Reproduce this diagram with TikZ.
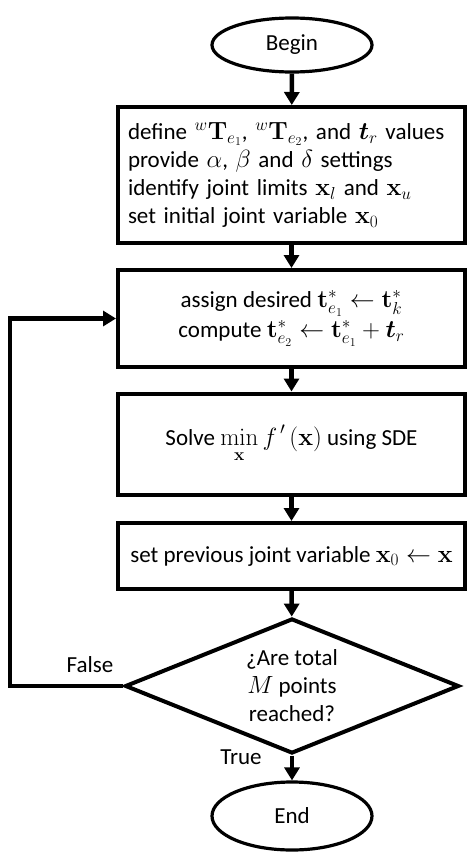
\documentclass[tikz,border=0pt]{standalone}
\usepackage{amsmath,bm}
\usepackage[no-math]{fontspec}
\setmainfont{Carlito}
\usetikzlibrary{shapes.geometric,arrows.meta}
\begin{document}
\begin{tikzpicture}[x=1pt,y=-1pt,
  every node/.style={font=\fontsize{23}{28}\selectfont},
  term/.style={ellipse,draw,line width=3.2pt,minimum width=160pt,minimum height=54pt,inner sep=0pt},
  stepbox/.style={draw,line width=4pt,minimum width=347pt,inner sep=0pt},
  decision/.style={diamond,draw,line width=4pt,minimum width=334pt,minimum height=135pt,aspect=2.47,inner sep=0pt},
  arr/.style={-{Triangle[length=13pt,width=15pt]},line width=4.5pt},
  lbl/.style={inner sep=0pt}]
\useasboundingbox (0,0) rectangle (474,860);
\node[term] (begin) at (292,45) {Begin};
\node[stepbox,minimum height=136pt,text width=327pt,align=left] (b1) at (291.5,175)
  {define ${}^{w}\mathbf{T}_{e_1}$, ${}^{w}\mathbf{T}_{e_2}$, and $\bm{t}_r$ values\\
   provide $\alpha$, $\beta$ and $\delta$ settings\\
   identify joint limits $\mathbf{x}_l$ and $\mathbf{x}_u$\\
   set initial joint variable $\mathbf{x}_0$};
\node[stepbox,minimum height=97pt,align=center,font=\fontsize{23}{30}\selectfont] (b2) at (291.5,318.5)
  {assign desired $\mathbf{t}^*_{e_1} \leftarrow \mathbf{t}^*_k$\\
   compute $\mathbf{t}^*_{e_2} \leftarrow \mathbf{t}^*_{e_1} + \bm{t}_r$};
\node[stepbox,minimum height=101pt,align=center] (b3) at (291.5,444)
  {Solve $\displaystyle\min_{\mathbf{x}} f^{\,\prime}\,(\mathbf{x})$ using SDE};
\node[stepbox,minimum height=66pt,align=center] (b4) at (291.5,556)
  {set previous joint variable $\mathbf{x}_0 \leftarrow \mathbf{x}$};
\node[decision,align=center] (dec) at (292,686)
  {¿Are total\\ $M$ points\\ reached?};
\node[term,minimum height=68pt] (end) at (292,816) {End};
\coordinate (lp) at (10,686);
\draw[arr] (begin) -- (b1);
\draw[arr] (b1) -- (b2);
\draw[arr] (b2) -- (b3);
\draw[arr] (b3) -- (b4);
\draw[arr] (b4) -- (dec);
\draw[arr] (dec) -- (end);
\draw[arr] (dec.west) -- (lp) |- (b2.west);
\node[lbl] (f) at (90,665) {False};
\node[lbl] (t) at (241,757) {True};
\end{tikzpicture}
\end{document}
